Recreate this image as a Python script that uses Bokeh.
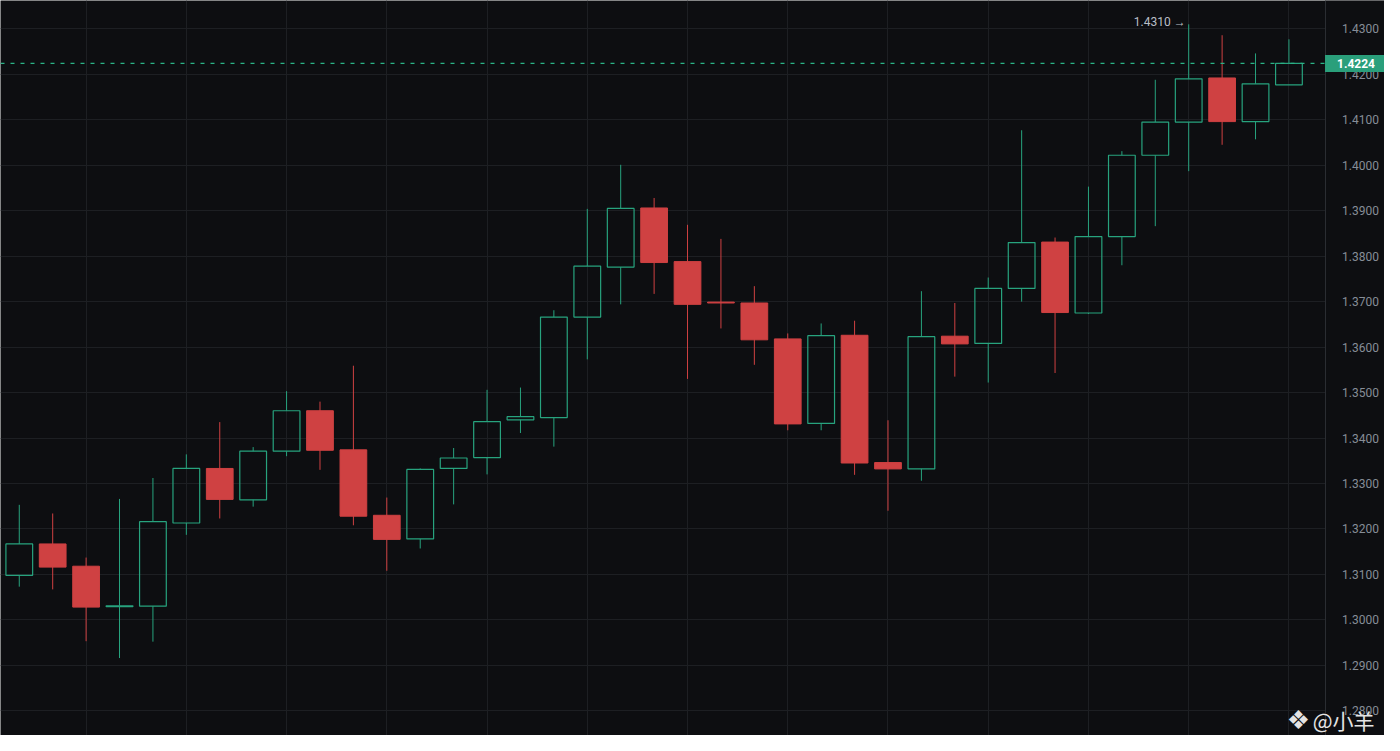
from bokeh.plotting import figure
from bokeh.models import (ColumnDataSource, Range1d, SingleIntervalTicker, NumeralTickFormatter,
                          FixedTicker, Label, BoxAnnotation)
from bokeh.embed import file_html
from bokeh.resources import INLINE

# ---- data ----
opens  = [1.3098, 1.3167, 1.3118, 1.3029, 1.3030, 1.3213, 1.3333, 1.3264, 1.3371, 1.3460,
          1.3374, 1.3230, 1.3178, 1.3333, 1.3357, 1.3440, 1.3445, 1.3666, 1.3776, 1.3906,
          1.3788, 1.3699, 1.3697, 1.3618, 1.3432, 1.3626, 1.3346, 1.3332, 1.3624, 1.3608,
          1.3729, 1.3831, 1.3675, 1.3843, 1.4022, 1.4095, 1.4192, 1.4096, 1.4177]
highs  = [1.3253, 1.3234, 1.3137, 1.3266, 1.3312, 1.3364, 1.3435, 1.3380, 1.3503, 1.3480,
          1.3559, 1.3269, 1.3333, 1.3378, 1.3506, 1.3511, 1.3681, 1.3904, 1.4001, 1.3928,
          1.3869, 1.3838, 1.3734, 1.3630, 1.3652, 1.3658, 1.3439, 1.3723, 1.3697, 1.3753,
          1.4077, 1.3841, 1.3953, 1.4031, 1.4188, 1.4310, 1.4286, 1.4246, 1.4277]
lows   = [1.3073, 1.3067, 1.2953, 1.2916, 1.2952, 1.3187, 1.3223, 1.3249, 1.3360, 1.3330,
          1.3208, 1.3108, 1.3157, 1.3254, 1.3320, 1.3411, 1.3381, 1.3573, 1.3694, 1.3717,
          1.3530, 1.3641, 1.3561, 1.3417, 1.3417, 1.3319, 1.3240, 1.3306, 1.3535, 1.3522,
          1.3700, 1.3543, 1.3673, 1.3780, 1.3866, 1.3987, 1.4045, 1.4057, 1.4177]
closes = [1.3167, 1.3116, 1.3028, 1.3031, 1.3216, 1.3333, 1.3265, 1.3371, 1.3460, 1.3373,
          1.3228, 1.3177, 1.3331, 1.3356, 1.3436, 1.3447, 1.3666, 1.3778, 1.3905, 1.3786,
          1.3694, 1.3697, 1.3616, 1.3431, 1.3625, 1.3345, 1.3332, 1.3623, 1.3607, 1.3729,
          1.3830, 1.3676, 1.3843, 1.4022, 1.4095, 1.4190, 1.4096, 1.4179, 1.4224]
price_tick_interval = 0.01
grid_every = 3
watermark_logo = "❖"
watermark_text = "@小羊"

# ---- styling ----
BG = "#0d0e11"
GRID = "#1d1f23"
GREEN = "#27a37e"
RED = "#cf4142"
TICK_TXT = "#868d97"
W, H = 1384, 735

n = len(opens)
idx = list(range(n))
is_up = [c >= o for o, c in zip(opens, closes)]
body_top = [max(o, c) for o, c in zip(opens, closes)]
body_bot = [min(o, c) for o, c in zip(opens, closes)]


def subset(flag):
    keep = [i for i in idx if is_up[i] == flag]
    return ColumnDataSource(dict(
        x=keep,
        top=[body_top[i] for i in keep],
        bottom=[body_bot[i] for i in keep],
        high=[highs[i] for i in keep],
        low=[lows[i] for i in keep],
    ))


up_src = subset(True)
dn_src = subset(False)

# x range covers chart + price-scale strip; the price scale sits at x_axis_at
x_start, x_axis_at, x_end = -0.562, n - 1 + 1.08, n - 1 + 2.86
y_start, y_end = 1.27456, 1.43624

p = figure(width=W, height=H,
           x_range=Range1d(x_start, x_end), y_range=Range1d(y_start, y_end),
           x_axis_location=None, y_axis_location="right",
           output_backend="svg", toolbar_location=None,
           min_border=0,
           background_fill_color=BG, border_fill_color=BG, outline_line_color=None)

# grids
p.yaxis.ticker = SingleIntervalTicker(interval=price_tick_interval, num_minor_ticks=0)
p.yaxis.formatter = NumeralTickFormatter(format="0.0000")
p.ygrid.grid_line_color = GRID
p.ygrid.grid_line_width = 1
p.xgrid.ticker = FixedTicker(ticks=list(range(2, n, grid_every)))
p.xgrid.grid_line_color = GRID
p.xgrid.grid_line_width = 1

# blank the price-scale strip (covers grid lines there)
p.add_layout(BoxAnnotation(left=x_axis_at, fill_color=BG, fill_alpha=1,
                           line_color=None, level="underlay"))

# y axis style: drawn at the fixed boundary inside the canvas
ax = p.yaxis[0]
ax.fixed_location = x_axis_at
ax.axis_line_color = "#2a2d32"
ax.major_tick_line_color = None
ax.minor_tick_line_color = None
ax.major_label_text_color = TICK_TXT
ax.major_label_text_font = "Roboto"
ax.major_label_text_font_size = "12px"
ax.major_label_standoff = 11

# wicks (not through hollow bodies)
p.segment(x0="x", y0="top", x1="x", y1="high", source=up_src, line_color=GREEN, line_width=1)
p.segment(x0="x", y0="bottom", x1="x", y1="low", source=up_src, line_color=GREEN, line_width=1)
p.segment(x0="x", y0="low", x1="x", y1="high", source=dn_src, line_color=RED, line_width=1)

# bodies
p.vbar(x="x", top="top", bottom="bottom", width=0.8, source=up_src,
       fill_alpha=0, line_color=GREEN, line_width=1.2)
p.vbar(x="x", top="top", bottom="bottom", width=0.8, source=dn_src,
       fill_color=RED, line_color=RED, line_width=1)

# last price line
last = closes[-1]
p.segment(x0=[x_start], y0=[last], x1=[x_axis_at], y1=[last],
          line_color="#2bb386", line_dash="4 6", line_width=1.4)

# highest high marker
hi_i = max(idx, key=lambda i: highs[i])
p.add_layout(Label(x=hi_i, y=highs[hi_i], text=f"{highs[hi_i]:.4f} \u2192",
                   text_align="right", text_baseline="middle", x_offset=-3, y_offset=2,
                   text_color="#b9bfc7", text_font="Roboto", text_font_size="12px"))

# last price tag on the price scale
p.add_layout(Label(x=x_axis_at, y=last, text=f"{last:.4f}", text_align="left",
                   text_baseline="middle", x_offset=0,
                   text_color="#ffffff", text_font="Roboto", text_font_size="12px",
                   text_font_style="bold",
                   background_fill_color="#2a9f7b",
                   padding=dict(left=12, right=10, top=4, bottom=4)))

# watermark
p.add_layout(Label(x=x_end, y=y_start, text=watermark_text, text_align="right",
                   text_baseline="middle", x_offset=-10, y_offset=16,
                   text_color="#e4e4e4", text_font="Noto Sans CJK SC", text_font_size="21px"))
p.add_layout(Label(x=x_end, y=y_start, text=watermark_logo, text_align="center",
                   text_baseline="middle", x_offset=-86, y_offset=16,
                   text_color="#e4e4e4", text_font="DejaVu Sans", text_font_size="26px"))

open("out.html", "w").write(file_html(p, INLINE))
